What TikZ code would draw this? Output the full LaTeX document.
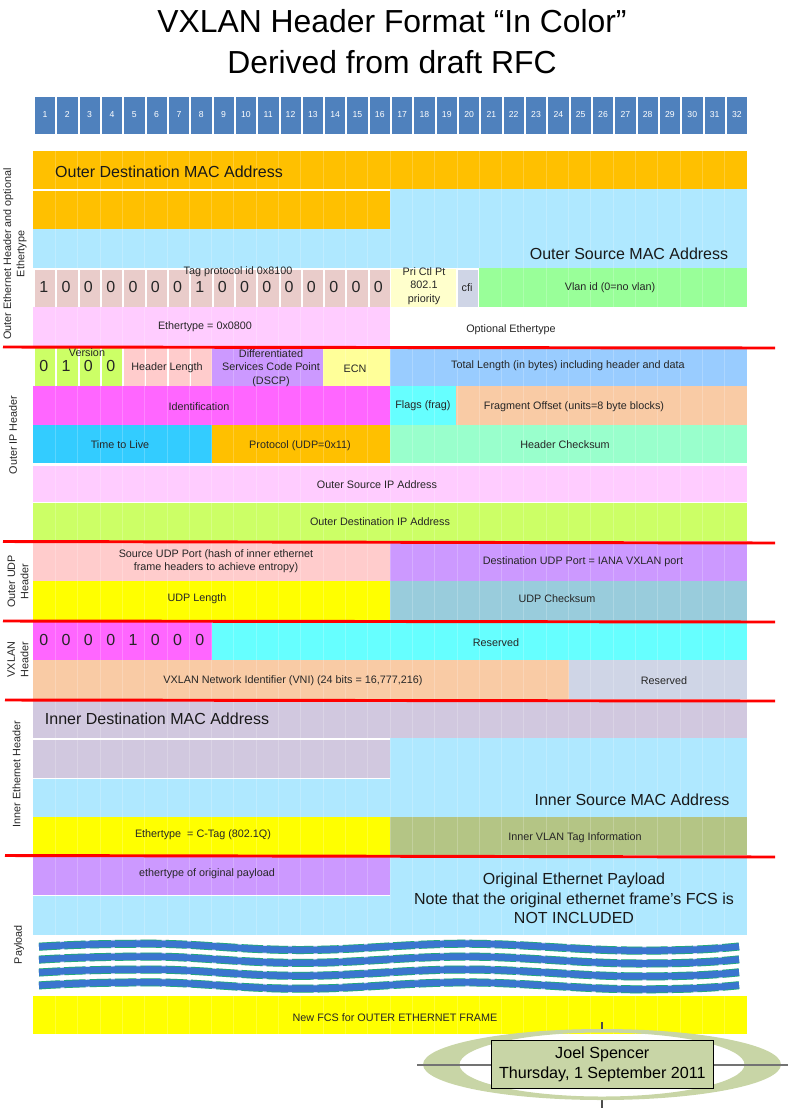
\documentclass[tikz,border=0pt]{standalone}
\usepackage{fontspec}
\setmainfont{Liberation Sans}
\definecolor{hdrblue}{HTML}{4F81BD}
\definecolor{macorange}{HTML}{FFC000}
\definecolor{macblue}{HTML}{AFE8FF}
\definecolor{bitrose}{HTML}{E9CCCA}
\definecolor{palecream}{HTML}{FFFFCC}
\definecolor{slatepale}{HTML}{CFD5E6}
\definecolor{vlangreen}{HTML}{99FF99}
\definecolor{palepink}{HTML}{FFCCFF}
\definecolor{lime}{HTML}{CCFF66}
\definecolor{salmon}{HTML}{FFCCCC}
\definecolor{lilac}{HTML}{CC99FF}
\definecolor{ecnyellow}{HTML}{FFFF99}
\definecolor{skyblue}{HTML}{99CCFF}
\definecolor{hotpink}{HTML}{FF66FF}
\definecolor{aqua}{HTML}{66FFFF}
\definecolor{peach}{HTML}{F9CBA5}
\definecolor{ttlblue}{HTML}{33CCFF}
\definecolor{mint}{HTML}{99FFCC}
\definecolor{tealgrey}{HTML}{99CCDC}
\definecolor{greyviolet}{HTML}{D1C8DF}
\definecolor{olive}{HTML}{B4C585}
\definecolor{sage}{HTML}{C8D5A6}
\definecolor{pureyellow}{HTML}{FFFF00}
\definecolor{purered}{HTML}{FF0000}
\definecolor{waveblue}{HTML}{3A75CF}
\definecolor{wavegreen}{HTML}{20B070}
\definecolor{wavepale}{HTML}{C5D6F0}
\tikzset{
    x=0.75pt, y=-0.75pt,
    lab/.style={inner sep=0pt, align=center, yshift=-0.8pt, text=black!85, font=\fontsize{8.1}{9.9}\selectfont},
    biglab/.style={inner sep=0pt, align=center, yshift=-0.6pt, text=black!90, font=\fontsize{12}{14.6}\selectfont},
    digit/.style={inner sep=0pt, text height=8.6pt, text depth=0pt, text=black!85, font=\fontsize{12}{14}\selectfont},
    side/.style={inner sep=0pt, align=center, rotate=90, text=black!85, font=\fontsize{8.1}{10}\selectfont},
    gridline/.style={white, opacity=0.2, line width=0.5pt},
    redline/.style={purered, line width=2.2pt},
    waveedge/.style={line width=6pt},
    wavecore/.style={waveblue, line width=4.9pt}
}
\begin{document}
\begin{tikzpicture}
    \useasboundingbox (0,0) rectangle (788,1108);
    % title
    \node[inner sep=0pt, align=center, font=\fontsize{23.9}{31}\selectfont] (title) at (392,41.5) {VXLAN Header Format “In Color”\\Derived from draft RFC};
    % bit numbers
    \foreach \i in {1,...,32} {
        \fill[hdrblue] ({35+22.32*(\i-1)},97) rectangle ({55.3+22.32*(\i-1)},134);
        \node[inner sep=0pt, text height=4.7pt, text depth=0pt, white, font=\fontsize{6.5}{8}\selectfont] (hdr\i) at ({45+22.32*(\i-1)},114) {\i};
    }
    % outer ethernet
    \fill[macorange] (33,151) rectangle (747,189);
    \fill[macorange] (33,191) rectangle (390,229);
    \fill[macblue] (390,189) rectangle (747,229);
    \fill[macblue] (33,229) rectangle (747,268);
    \fill[palecream] (391,269) rectangle (456,307);
    \fill[slatepale] (458,270) rectangle (478,307);
    \fill[vlangreen] (479,268) rectangle (747,307);
    \fill[palepink] (33,307) rectangle (390,347);
    % outer ip
    \fill[salmon] (123,347) rectangle (212,386);
    \fill[lilac] (212,347) rectangle (323,386);
    \fill[ecnyellow] (323,347) rectangle (390,386);
    \fill[skyblue] (390,347) rectangle (747,386);
    \fill[hotpink] (33,386) rectangle (390,425);
    \fill[aqua] (390,386) rectangle (456,425);
    \fill[peach] (456,386) rectangle (747,425);
    \fill[ttlblue] (33,425) rectangle (212,463);
    \fill[macorange] (212,425) rectangle (390,463);
    \fill[mint] (390,425) rectangle (747,463);
    \fill[palepink] (33,466) rectangle (747,502);
    \fill[lime] (33,503) rectangle (747,541);
    % outer udp
    \fill[salmon] (33,542) rectangle (390,581);
    \fill[lilac] (390,542) rectangle (747,581);
    \fill[pureyellow] (33,581) rectangle (390,621);
    \fill[tealgrey] (390,581) rectangle (747,621);
    % vxlan
    \fill[hotpink] (33,622) rectangle (212,660);
    \fill[aqua] (212,622) rectangle (747,660);
    \fill[peach] (33,660) rectangle (569,699);
    \fill[slatepale] (569,660) rectangle (747,699);
    % inner ethernet
    \fill[greyviolet] (33,701) rectangle (747,738);
    \fill[greyviolet] (33,740) rectangle (390,778);
    \fill[macblue] (390,738) rectangle (747,779);
    \fill[macblue] (33,778.8) rectangle (747,817);
    \fill[pureyellow] (33,817) rectangle (390,855);
    \fill[olive] (390,817) rectangle (747,855);
    % payload
    \fill[lilac] (33,857) rectangle (390,895);
    \fill[macblue] (390,857) rectangle (747,896);
    \fill[macblue] (33,896) rectangle (747,935);
    \fill[pureyellow] (33,996) rectangle (747,1034);
    % faint column lines
    \foreach \i in {1,...,31} {
        \draw[gridline] ({33+22.31*\i},151) -- ({33+22.31*\i},268);
        \draw[gridline] ({33+22.31*\i},386) -- ({33+22.31*\i},347);
        \draw[gridline] ({33+22.31*\i},386) -- ({33+22.31*\i},935);
        \draw[gridline] ({33+22.31*\i},996) -- ({33+22.31*\i},1034);
        \draw[gridline] ({33+22.31*\i},307) -- ({33+22.31*\i},347);
    }
    \fill[white] (390,307.4) rectangle (747,346);
    \foreach \i in {22,...,32} {
        \draw[gridline] ({33+22.31*(\i-1)},268) -- ({33+22.31*(\i-1)},307);
    }
    % tag protocol bits
    \foreach \i/\b in {1/1,2/0,3/0,4/0,5/0,6/0,7/0,8/1,9/0,10/0,11/0,12/0,13/0,14/0,15/0,16/0} {
        \fill[bitrose] ({35+22.32*(\i-1)},270) rectangle ({55.3+22.32*(\i-1)},307);
        \node[digit] (tag\i) at ({43.8+22.3*(\i-1)},287) {\b};
    }
    % version bits
    \foreach \i/\b in {1/0,2/1,3/0,4/0} {
        \fill[lime] ({35+22.32*(\i-1)},347) rectangle ({55.3+22.32*(\i-1)},386);
        \node[digit] (ver\i) at ({43.8+22.3*(\i-1)},366) {\b};
    }
    \foreach \i in {5,...,8} {
        \draw[white, line width=0.9pt] ({34+22.32*(\i-1)},347) -- ({34+22.32*(\i-1)},386);
    }
    % vxlan flag bits
    \foreach \i/\b in {1/0,2/0,3/0,4/0,5/1,6/0,7/0,8/0} {
        \node[digit] (flag\i) at ({43.8+22.3*(\i-1)},640) {\b};
    }
    % wavy tear
    \foreach \y in {0,12.9,25.8,38.7} {
        \draw[waveedge, wavepale] (39,946.7+\y) .. controls (75,944.5+\y) and (110,943.7+\y) .. (150,943.7+\y) .. controls (200,943.7+\y) and (240,950+\y) .. (300,950+\y) .. controls (360,950+\y) and (405,943.7+\y) .. (465,943.7+\y) .. controls (525,943.7+\y) and (580,950.6+\y) .. (640,950.6+\y) .. controls (680,950.6+\y) and (710,949.5+\y) .. (739,946.5+\y);
        \draw[waveedge, wavegreen, dash pattern=on 16pt off 3pt] (39,946.7+\y) .. controls (75,944.5+\y) and (110,943.7+\y) .. (150,943.7+\y) .. controls (200,943.7+\y) and (240,950+\y) .. (300,950+\y) .. controls (360,950+\y) and (405,943.7+\y) .. (465,943.7+\y) .. controls (525,943.7+\y) and (580,950.6+\y) .. (640,950.6+\y) .. controls (680,950.6+\y) and (710,949.5+\y) .. (739,946.5+\y);
        \draw[wavecore] (39,946.7+\y) .. controls (75,944.5+\y) and (110,943.7+\y) .. (150,943.7+\y) .. controls (200,943.7+\y) and (240,950+\y) .. (300,950+\y) .. controls (360,950+\y) and (405,943.7+\y) .. (465,943.7+\y) .. controls (525,943.7+\y) and (580,950.6+\y) .. (640,950.6+\y) .. controls (680,950.6+\y) and (710,949.5+\y) .. (739,946.5+\y);
    }
    % red separators
    \draw[redline] (3,347) -- (775,348);
    \draw[redline] (3,541.5) -- (775,543);
    \draw[redline] (3,621) -- (775,622);
    \draw[redline] (5,700) -- (775,701);
    \draw[redline] (5,855.5) -- (775,857);
    % labels
    \node[biglab] (outerdst) at (169,171) {Outer Destination MAC Address};
    \node[biglab] (outersrc) at (629,253) {Outer Source MAC Address};
    \node[lab] (tpid) at (238,270.5) {Tag protocol id 0x8100};
    \node[lab] (pcp) at (424,285) {Pri Ctl Pt\\802.1\\priority};
    \node[lab] (cfi) at (467,287) {cfi};
    \node[lab] (vlanid) at (610,287) {Vlan id (0=no vlan)};
    \node[lab] (ethertype) at (205,326) {Ethertype = 0x0800};
    \node[lab] (optether) at (511,329) {Optional Ethertype};
    \node[lab] (version) at (87,352) {Version};
    \node[lab] (hdrlen) at (167,367) {Header Length};
    \node[lab] (dscp) at (271,367) {Differentiated\\Services Code Point\\(DSCP)};
    \node[lab] (ecn) at (355,368) {ECN};
    \node[lab] (totlen) at (568,365) {Total Length (in bytes) including header and data};
    \node[lab] (ident) at (199,406) {Identification};
    \node[lab] (flags) at (423,405) {Flags (frag)};
    \node[lab] (fragoff) at (574,406) {Fragment Offset (units=8 byte blocks)};
    \node[lab] (ttl) at (120,444) {Time to Live};
    \node[lab] (proto) at (300,445) {Protocol (UDP=0x11)};
    \node[lab] (hdrsum) at (565,444) {Header Checksum};
    \node[lab] (srcip) at (377,484) {Outer Source IP Address};
    \node[lab] (dstip) at (380,521) {Outer Destination IP Address};
    \node[lab] (srcport) at (216,560) {Source UDP Port (hash of inner ethernet\\frame headers to achieve entropy)};
    \node[lab] (dstport) at (583,561) {Destination UDP Port = IANA VXLAN port};
    \node[lab] (udplen) at (197,598) {UDP Length};
    \node[lab] (udpsum) at (557,598) {UDP Checksum};
    \node[lab] (resv) at (496,642) {Reserved};
    \node[lab] (vni) at (293,680) {VXLAN Network Identifier (VNI) (24 bits = 16,777,216)};
    \node[lab] (resvb) at (664,680) {Reserved};
    \node[biglab] (innerdst) at (157,718) {Inner Destination MAC Address};
    \node[biglab] (innersrc) at (632,799) {Inner Source MAC Address};
    \node[lab] (ctag) at (203,834) {Ethertype\ \ = C-Tag (802.1Q)};
    \node[lab] (innervlan) at (575,837) {Inner VLAN Tag Information};
    \node[lab] (origtype) at (207,873) {ethertype of original payload};
    \node[biglab] (origpay) at (574,897.5) {Original Ethernet Payload\\Note that the original ethernet frame’s FCS is\\NOT INCLUDED};
    \node[lab] (newfcs) at (395,1017) {New FCS for OUTER ETHERNET FRAME};
    % side labels
    \node[side] (sideeth) at (15,254) {Outer Ethernet Header and optional\\Ethertype};
    \node[side] (sideip) at (13,435) {Outer IP Header};
    \node[side] (sideudp) at (18,581.5) {Outer UDP\\Header};
    \node[side] (sidevx) at (18,659.5) {VXLAN\\Header};
    \node[side] (sideinner) at (16.5,774) {Inner Ethernet Header};
    \node[side] (sidepay) at (19,944.5) {Payload};
    % date stamp
    \draw[black!70, line width=0.8pt] (602,1022) -- (602,1030) (602,1100) -- (602,1108);
    \fill[sage, even odd rule] (602,1064.5) ellipse [x radius=179, y radius=35.5] (602,1064.5) ellipse [x radius=142.5, y radius=32];
    \draw[black!55, line width=1.5pt] (417,1065) -- (491,1065) (713,1065) -- (788,1065);
    \node[draw=black, fill=sage, line width=0.7pt, minimum width=166.5pt, minimum height=36.5pt, inner sep=0pt, align=center, font=\fontsize{12.1}{15}\selectfont] (stamp) at (602.3,1064.5) {Joel Spencer\\Thursday, 1 September 2011};
\end{tikzpicture}
\end{document}
